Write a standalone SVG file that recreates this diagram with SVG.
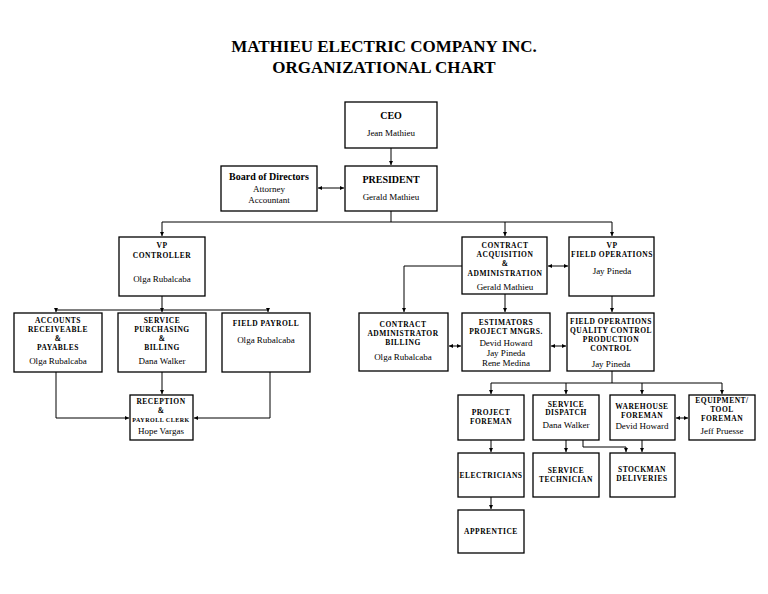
<svg xmlns="http://www.w3.org/2000/svg" width="768" height="594" viewBox="0 0 768 594">
<defs><marker id="a" viewBox="0 0 6 6" refX="6" refY="3" markerWidth="4" markerHeight="4" orient="auto-start-reverse"><path d="M0,0L6,3L0,6z" fill="#000"/></marker></defs>
<style>
rect{fill:#fff;stroke:#000;stroke-width:1.3}
text{font-family:"Liberation Serif",serif;text-anchor:middle;fill:#000}
.t{font-size:17px;font-weight:bold}
.c{font-size:7.5px;font-weight:bold;letter-spacing:0.5px}
.n{font-size:9px}
.h{font-size:10px;font-weight:bold}
#conn path{fill:none;stroke:#000;stroke-width:1;marker-end:url(#a)}
#conn .d{marker-start:url(#a)}
</style>
<rect x="0" y="0" width="768" height="594" style="stroke:none"/>
<text class="t" x="384" y="52">MATHIEU ELECTRIC COMPANY INC.</text>
<text class="t" x="384" y="73">ORGANIZATIONAL CHART</text>
<g id="conn">
<path d="M391,148V165"/>
<path class="d" d="M318,188H344"/>
<path d="M391,211V222H162V236"/>
<path d="M391,222H505V236"/>
<path d="M505,222H612V236"/>
<path class="d" d="M548,266H568"/>
<path d="M462,266H404V312"/>
<path d="M505,294V312"/>
<path d="M612,296V312"/>
<path class="d" d="M449,346H461"/>
<path class="d" d="M551,346H566"/>
<path d="M162,296V310H56V312"/>
<path d="M162,310V312"/>
<path d="M162,310H268V312"/>
<path d="M56,372V418H129"/>
<path d="M270,372V418H194"/>
<path d="M162,372V394"/>
<path d="M612,371V383H491V394"/>
<path d="M566,383V394"/>
<path d="M642,383V394"/>
<path d="M612,383H722V394"/>
<path class="d" d="M676,418H688"/>
<path d="M491,440V452"/>
<path d="M566,440V452"/>
<path d="M642,440V452"/>
<path d="M583,440V447H626V452"/>
<path d="M491,497V509"/>
</g>
<g id="ceo"><rect x="345" y="102" width="92" height="46"/><text class="h" x="391" y="119">CEO</text><text class="n" x="391" y="136">Jean Mathieu</text></g>
<g id="president"><rect x="345" y="166" width="92" height="45"/><text class="h" x="391" y="183">PRESIDENT</text><text class="n" x="391" y="200">Gerald Mathieu</text></g>
<g id="board"><rect x="221" y="166" width="96" height="45"/><text class="h" x="269" y="180">Board of Directors</text><text class="n" x="269" y="192">Attorney</text><text class="n" x="269" y="203">Accountant</text></g>
<g id="vpc"><rect x="119" y="237" width="86" height="59"/><text class="c" x="162" y="248">VP</text><text class="c" x="162" y="258">CONTROLLER</text><text class="n" x="162" y="282">Olga Rubalcaba</text></g>
<g id="ar"><rect x="14" y="313" width="88" height="59"/><text class="c" x="58" y="323">ACCOUNTS</text><text class="c" x="58" y="332">RECEIVEABLE</text><text class="c" x="58" y="341">&amp;</text><text class="c" x="58" y="350">PAYABLES</text><text class="n" x="58" y="364">Olga Rubalcaba</text></g>
<g id="sp"><rect x="118" y="313" width="88" height="59"/><text class="c" x="162" y="323">SERVICE</text><text class="c" x="162" y="332">PURCHASING</text><text class="c" x="162" y="341">&amp;</text><text class="c" x="162" y="350">BILLING</text><text class="n" x="162" y="364">Dana Walker</text></g>
<g id="fp"><rect x="222" y="313" width="88" height="59"/><text class="c" x="266" y="326">FIELD PAYROLL</text><text class="n" x="266" y="343">Olga Rubalcaba</text></g>
<g id="rec"><rect x="130" y="395" width="63" height="45"/><text class="c" x="161" y="404">RECEPTION</text><text class="c" x="161" y="413">&amp;</text><text class="c" x="161" y="422" style="font-size:6px">PAYROLL CLERK</text><text class="n" x="161" y="434">Hope Vargas</text></g>
<g id="ca"><rect x="462" y="237" width="85" height="57"/><text class="c" x="505" y="248">CONTRACT</text><text class="c" x="505" y="257">ACQUISITION</text><text class="c" x="505" y="266">&amp;</text><text class="c" x="505" y="276">ADMINISTRATION</text><text class="n" x="505" y="290">Gerald Mathieu</text></g>
<g id="vpf"><rect x="569" y="237" width="85" height="59"/><text class="c" x="612" y="248">VP</text><text class="c" x="612" y="257">FIELD OPERATIONS</text><text class="n" x="612" y="274">Jay Pineda</text></g>
<g id="cab"><rect x="359" y="313" width="89" height="58"/><text class="c" x="403" y="327">CONTRACT</text><text class="c" x="403" y="336">ADMINISTRATOR</text><text class="c" x="403" y="345">BILLING</text><text class="n" x="403" y="360">Olga Rubalcaba</text></g>
<g id="est"><rect x="462" y="313" width="88" height="58"/><text class="c" x="506" y="325">ESTIMATORS</text><text class="c" x="506" y="334">PROJECT MNGRS.</text><text class="n" x="506" y="346">Devid Howard</text><text class="n" x="506" y="356">Jay Pineda</text><text class="n" x="506" y="366">Rene Medina</text></g>
<g id="foqc"><rect x="567" y="313" width="87" height="58"/><text class="c" x="611" y="324">FIELD OPERATIONS</text><text class="c" x="611" y="333">QUALITY CONTROL</text><text class="c" x="611" y="342">PRODUCTION</text><text class="c" x="611" y="351">CONTROL</text><text class="n" x="611" y="367">Jay Pineda</text></g>
<g id="pf"><rect x="458" y="395" width="66" height="45"/><text class="c" x="491" y="415">PROJECT</text><text class="c" x="491" y="424">FOREMAN</text></g>
<g id="sd"><rect x="533" y="395" width="66" height="45"/><text class="c" x="566" y="407">SERVICE</text><text class="c" x="566" y="415">DISPATCH</text><text class="n" x="566" y="428">Dana Walker</text></g>
<g id="wf"><rect x="610" y="395" width="65" height="45"/><text class="c" x="642" y="409">WAREHOUSE</text><text class="c" x="642" y="418">FOREMAN</text><text class="n" x="642" y="429">Devid Howard</text></g>
<g id="eq"><rect x="689" y="395" width="66" height="45"/><text class="c" x="722" y="403">EQUIPMENT/</text><text class="c" x="722" y="412">TOOL</text><text class="c" x="722" y="421">FOREMAN</text><text class="n" x="722" y="434">Jeff Pruesse</text></g>
<g id="el"><rect x="458" y="453" width="66" height="44"/><text class="c" x="491" y="478">ELECTRICIANS</text></g>
<g id="st"><rect x="533" y="453" width="66" height="44"/><text class="c" x="566" y="473">SERVICE</text><text class="c" x="566" y="482">TECHNICIAN</text></g>
<g id="sk"><rect x="610" y="453" width="65" height="44"/><text class="c" x="642" y="472">STOCKMAN</text><text class="c" x="642" y="481">DELIVERIES</text></g>
<g id="ap"><rect x="458" y="510" width="66" height="43"/><text class="c" x="491" y="534">APPRENTICE</text></g>
</svg>
